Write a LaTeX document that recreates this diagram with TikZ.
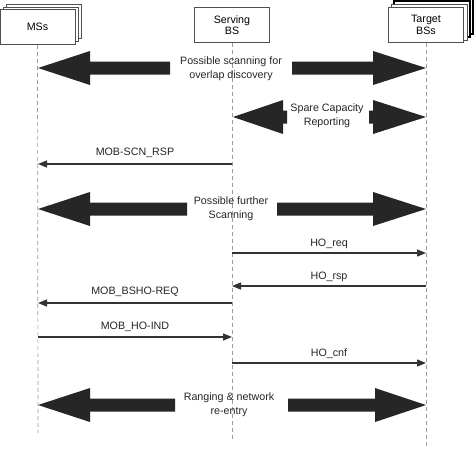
\documentclass[tikz,border=0pt]{standalone}
\usepackage{fontspec}
\setmainfont{Liberation Sans}
\usetikzlibrary{arrows.meta}
\definecolor{bigc}{HTML}{262626}
\definecolor{msgc}{HTML}{333333}
\definecolor{boxc}{HTML}{505050}
\definecolor{lifec}{HTML}{9A9A9A}
\newcommand\bighalf[4]{% tip x, head base x, shaft end x, y
  \fill[bigc] (#1,#4) -- (#2,{#4-17}) -- (#2,{#4-6.5}) -- (#3,{#4-6.5}) -- (#3,{#4+6.5}) -- (#2,{#4+6.5}) -- (#2,{#4+17}) -- cycle;}
\tikzset{
  box/.style={draw=boxc, line width=0.9pt, fill=white, minimum width=75pt, minimum height=35pt, inner sep=0pt, align=center},
  backbox/.style={draw=#1, line width=1pt, fill=white},
  lifeline/.style={draw=lifec, line width=0.7pt, dash pattern=on 4pt off 3pt},
  msg/.style={draw=msgc, line width=1.2pt, -{Triangle[length=9pt,width=7pt]}},
  lbl/.style={inner sep=0pt, align=center, font=\fontsize{10.7}{14}\selectfont, text=black!85},
}
\begin{document}
\begin{tikzpicture}[x=1pt,y=-1pt]
\useasboundingbox (0,0) rectangle (474,448);
\clip (0,0) rectangle (474,448);
\fill[white] (0,0) rectangle (474,448);
% stacked boxes behind
\draw[backbox=boxc] (6,4) rectangle (81,38);
\draw[backbox=boxc] (3,7) rectangle (78,41);
\draw[backbox=black, line width=1.6pt] (397,-2) rectangle (473,34);
\draw[backbox=black, line width=1.3pt] (394,1) rectangle (470,37);
\draw[backbox=boxc] (391,4) rectangle (467,40);
% participant boxes
\node[box] (ms) at (37.5,27) {\fontsize{10.7}{14}\selectfont MSs};
\node[box] (sbs) at (232,25) {\fontsize{10.7}{14}\selectfont Serving\\[-0.5pt]\fontsize{10.7}{14}\selectfont BS};
\node[box] (tbs) at (426,25) {\fontsize{10.7}{14}\selectfont Target\\[-0.5pt]\fontsize{10.7}{14}\selectfont BSs};
% lifelines
\coordinate (msend) at (38,433);
\coordinate (sbsend) at (232,440);
\coordinate (tbsend) at (426,448);
\draw[lifeline] (ms.south) -- (msend);
\draw[lifeline] (sbs.south) -- (sbsend);
\draw[lifeline] (tbs.south) -- (tbsend);
% big arrows
\bighalf{38}{90}{170}{68}
\bighalf{426}{373}{292}{68}
\node[lbl] (t1) at (231,68.5) {Possible scanning for\\overlap discovery};
\bighalf{233}{283}{287}{117}
\bighalf{426}{373}{369}{117}
\node[lbl] (t2) at (327,116) {Spare Capacity\\Reporting};
\bighalf{38}{90}{187}{209}
\bighalf{426}{373}{277}{209}
\node[lbl] (t4) at (231,209) {Possible further\\Scanning};
\bighalf{38}{90}{175}{405}
\bighalf{426}{375}{288}{405}
\node[lbl] (t10) at (229,404.5) {Ranging \& network\\re-entry};
% messages
\coordinate (m1a) at (232,164); \coordinate (m1b) at (38,164);
\draw[msg] (m1a) -- node[lbl, above=6pt] {MOB-SCN\_RSP} (m1b);
\coordinate (m2a) at (232,253); \coordinate (m2b) at (426,253);
\draw[msg] (m2a) -- node[lbl, above=4pt] {HO\_req} (m2b);
\coordinate (m3a) at (426,286); \coordinate (m3b) at (232,286);
\draw[msg] (m3a) -- node[lbl, above=4pt] {HO\_rsp} (m3b);
\coordinate (m4a) at (232,303); \coordinate (m4b) at (38,303);
\draw[msg] (m4a) -- node[lbl, above=6pt] {MOB\_BSHO-REQ} (m4b);
\coordinate (m5a) at (38,337); \coordinate (m5b) at (232,337);
\draw[msg] (m5a) -- node[lbl, above=5pt] {MOB\_HO-IND} (m5b);
\coordinate (m6a) at (232,363); \coordinate (m6b) at (426,363);
\draw[msg] (m6a) -- node[lbl, above=4pt] {HO\_cnf} (m6b);
\end{tikzpicture}
\end{document}
